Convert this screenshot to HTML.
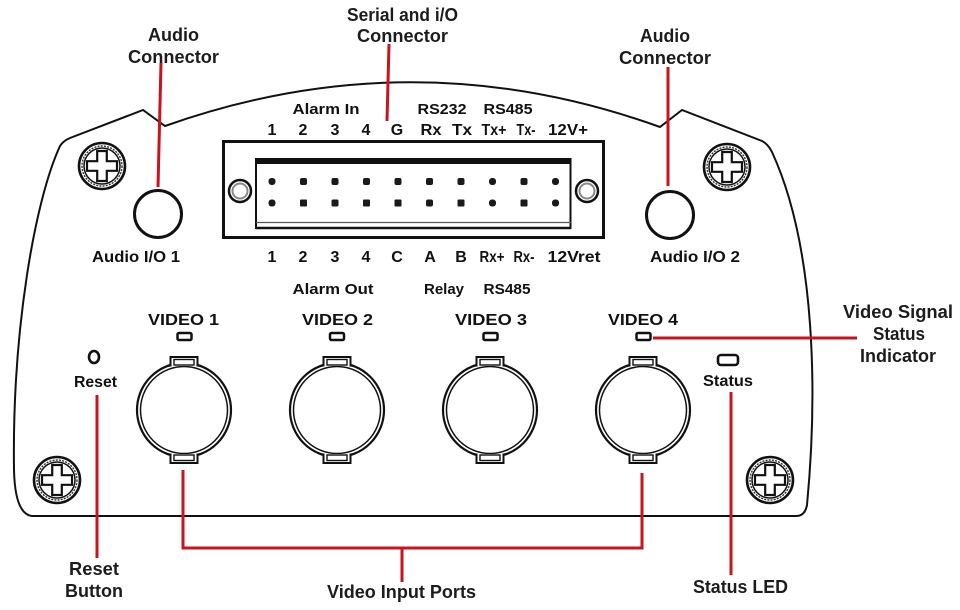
<!DOCTYPE html>
<html>
<head>
<meta charset="utf-8">
<style>
  html,body{margin:0;padding:0;background:#fff;}
  svg{display:block;}
  .lbl{font-family:"Liberation Sans",Arial,sans-serif;font-weight:bold;font-size:18px;fill:#1c1c1c;}
  .pt{font-family:"Liberation Sans",Arial,sans-serif;font-weight:bold;font-size:16px;fill:#111;}
  .ps{font-family:"Liberation Sans",Arial,sans-serif;font-weight:bold;font-size:15px;fill:#111;}
</style>
</head>
<body>
<svg width="960" height="610" viewBox="0 0 960 610" xmlns="http://www.w3.org/2000/svg">
  <defs>
    <g id="screw">
      <circle r="23" fill="#fff" stroke="#111" stroke-width="2.6"/>
      <circle r="20" fill="none" stroke="#333" stroke-width="1.4" stroke-dasharray="2 1.2"/>
      <circle r="18" fill="none" stroke="#111" stroke-width="1.5"/>
      <path d="M -4.8,-15 L 4.8,-15 L 4.8,-4.8 L 15,-4.8 L 15,4.8 L 4.8,4.8 L 4.8,15 L -4.8,15 L -4.8,4.8 L -15,4.8 L -15,-4.8 L -4.8,-4.8 Z" fill="#fff" stroke="#111" stroke-width="2.2" stroke-linejoin="miter"/>
    </g>
    <g id="bnc">
      <circle r="47" fill="#fff" stroke="#111" stroke-width="2.2"/>
      <circle r="43.5" fill="none" stroke="#111" stroke-width="1.5"/>
      <path d="M -17,-44 L -13.5,-44.5 L -13.5,-53 L 13.5,-53 L 13.5,-44.5 L 17,-44" fill="#fff" stroke="#111" stroke-width="2"/>
      <rect x="-10" y="-50.5" width="20" height="5.5" fill="none" stroke="#111" stroke-width="1.4"/>
      <path d="M -17,44 L -13.5,44.5 L -13.5,53 L 13.5,53 L 13.5,44.5 L 17,44" fill="#fff" stroke="#111" stroke-width="2"/>
      <rect x="-10" y="45" width="20" height="5.5" fill="none" stroke="#111" stroke-width="1.4"/>
    </g>
    <g id="led">
      <rect x="-7" y="-3.5" width="14" height="7" rx="1.5" fill="#fff" stroke="#111" stroke-width="2.5"/>
    </g>
  </defs>

  <!-- Panel outline -->
  <path d="M 60,146 Q 63,141 70,138 L 143,110 L 165,126 Q 413,38 660,127 L 682,110 L 762,141 Q 768,144 772,152 C 817,250 817,400 807,505 Q 805,516 796,516 L 32,516 Q 15,514 14,470 C 12,330 35,200 60,146 Z" fill="#fff" stroke="#111" stroke-width="2"/>

  <!-- Screws -->
  <use href="#screw" x="102" y="166"/>
  <use href="#screw" x="727" y="167"/>
  <use href="#screw" x="57" y="480"/>
  <use href="#screw" x="770" y="480"/>

  <!-- Audio jacks -->
  <circle cx="158" cy="214" r="23.5" fill="#fff" stroke="#111" stroke-width="3"/>
  <circle cx="670" cy="215" r="23.5" fill="#fff" stroke="#111" stroke-width="3"/>

  <!-- Serial connector block -->
  <rect x="223.5" y="141.5" width="380" height="96" fill="#fff" stroke="#111" stroke-width="3"/>
  <rect x="256" y="158" width="315" height="6" fill="#111"/>
  <line x1="256" y1="158" x2="256" y2="229" stroke="#111" stroke-width="2"/>
  <line x1="570.5" y1="158" x2="570.5" y2="229" stroke="#111" stroke-width="2"/>
  <line x1="256" y1="222.5" x2="571" y2="222.5" stroke="#555" stroke-width="1.3"/>
  <line x1="256" y1="228" x2="571" y2="228" stroke="#111" stroke-width="2.5"/>
  <!-- side holes -->
  <circle cx="240" cy="191" r="11" fill="#fff" stroke="#111" stroke-width="2.5"/>
  <circle cx="240" cy="191" r="7.5" fill="#fff" stroke="#888" stroke-width="2"/>
  <circle cx="587" cy="191" r="11" fill="#fff" stroke="#111" stroke-width="2.5"/>
  <circle cx="587" cy="191" r="7.5" fill="#fff" stroke="#888" stroke-width="2"/>
  <!-- pins -->
  <g fill="#1a1a1a">
    <rect x="268.5" y="178" width="7" height="7" rx="3"/><rect x="300" y="178" width="7" height="7" rx="2"/>
    <rect x="331.5" y="178" width="7" height="7" rx="2"/><rect x="363" y="178" width="7" height="7" rx="2"/>
    <rect x="394.5" y="178" width="7" height="7" rx="2"/><rect x="426" y="178" width="7" height="7" rx="2"/>
    <rect x="457.5" y="178" width="7" height="7" rx="2"/><rect x="489" y="178" width="7" height="7" rx="3"/>
    <rect x="520.5" y="178" width="7" height="7" rx="2"/><rect x="552" y="178" width="7" height="7" rx="3"/>

    <rect x="268.5" y="199.5" width="7" height="7" rx="3"/><rect x="300" y="199.5" width="7" height="7" rx="1"/>
    <rect x="331.5" y="199.5" width="7" height="7" rx="1.5"/><rect x="363" y="199.5" width="7" height="7" rx="1"/>
    <rect x="394.5" y="199.5" width="7" height="7" rx="1"/><rect x="426" y="199.5" width="7" height="7" rx="2"/>
    <rect x="457.5" y="199.5" width="7" height="7" rx="1"/><rect x="489" y="199.5" width="7" height="7" rx="3"/>
    <rect x="520.5" y="199.5" width="7" height="7" rx="1"/><rect x="552" y="199.5" width="7" height="7" rx="3"/>
  </g>

  <!-- Connector labels -->
  <text class="ps" x="326" y="114" text-anchor="middle" textLength="67" lengthAdjust="spacingAndGlyphs">Alarm In</text>
  <text class="ps" x="442" y="114" text-anchor="middle" textLength="49" lengthAdjust="spacingAndGlyphs">RS232</text>
  <text class="ps" x="508" y="114" text-anchor="middle" textLength="49" lengthAdjust="spacingAndGlyphs">RS485</text>

  <g class="pt" text-anchor="middle">
    <text x="272" y="135">1</text>
    <text x="303" y="135">2</text>
    <text x="335" y="135">3</text>
    <text x="366" y="135">4</text>
    <text x="397" y="135">G</text>
    <text x="431" y="135" textLength="21" lengthAdjust="spacingAndGlyphs">Rx</text>
    <text x="462" y="135" textLength="20" lengthAdjust="spacingAndGlyphs">Tx</text>
    <text x="494" y="135" textLength="25" lengthAdjust="spacingAndGlyphs">Tx+</text>
    <text x="526" y="135" textLength="19" lengthAdjust="spacingAndGlyphs">Tx-</text>
    <text x="568" y="135" textLength="40" lengthAdjust="spacingAndGlyphs">12V+</text>

    <text x="272" y="262">1</text>
    <text x="303" y="262">2</text>
    <text x="335" y="262">3</text>
    <text x="366" y="262">4</text>
    <text x="397" y="262">C</text>
    <text x="430" y="262">A</text>
    <text x="461" y="262">B</text>
    <text x="492" y="262" textLength="25" lengthAdjust="spacingAndGlyphs">Rx+</text>
    <text x="524" y="262" textLength="21" lengthAdjust="spacingAndGlyphs">Rx-</text>
    <text x="574" y="262" textLength="53" lengthAdjust="spacingAndGlyphs">12Vret</text>
  </g>

  <text class="ps" x="333" y="294" text-anchor="middle" textLength="81" lengthAdjust="spacingAndGlyphs">Alarm Out</text>
  <text class="ps" x="444" y="294" text-anchor="middle" textLength="40" lengthAdjust="spacingAndGlyphs">Relay</text>
  <text class="ps" x="507" y="294" text-anchor="middle" textLength="47" lengthAdjust="spacingAndGlyphs">RS485</text>

  <text class="pt" x="136" y="262" text-anchor="middle" textLength="88" lengthAdjust="spacingAndGlyphs">Audio I/O 1</text>
  <text class="pt" x="695" y="262" text-anchor="middle" textLength="90" lengthAdjust="spacingAndGlyphs">Audio I/O 2</text>

  <!-- Video section -->
  <text class="pt" x="183.5" y="325" text-anchor="middle" textLength="71" lengthAdjust="spacingAndGlyphs">VIDEO 1</text>
  <text class="pt" x="337.5" y="325" text-anchor="middle" textLength="71" lengthAdjust="spacingAndGlyphs">VIDEO 2</text>
  <text class="pt" x="491" y="325" text-anchor="middle" textLength="72" lengthAdjust="spacingAndGlyphs">VIDEO 3</text>
  <text class="pt" x="643" y="325" text-anchor="middle" textLength="70" lengthAdjust="spacingAndGlyphs">VIDEO 4</text>

  <use href="#led" x="184.5" y="336.5"/>
  <use href="#led" x="337" y="336.5"/>
  <use href="#led" x="490.5" y="336.5"/>
  <use href="#led" x="643.5" y="336.5"/>

  <use href="#bnc" x="184" y="410"/>
  <use href="#bnc" x="337" y="410"/>
  <use href="#bnc" x="490" y="410"/>
  <use href="#bnc" x="643" y="410"/>

  <!-- Reset -->
  <ellipse cx="94" cy="357" rx="5" ry="6" fill="#fff" stroke="#111" stroke-width="2.6"/>
  <text class="pt" x="95.5" y="387" text-anchor="middle" textLength="43" lengthAdjust="spacingAndGlyphs">Reset</text>

  <!-- Status -->
  <rect x="718" y="355" width="20" height="10" rx="3" fill="#fff" stroke="#111" stroke-width="2.6"/>
  <text class="pt" x="728" y="386" text-anchor="middle" textLength="50" lengthAdjust="spacingAndGlyphs">Status</text>

  <!-- Red leader lines -->
  <g stroke="#c8141e" stroke-width="3" fill="none">
    <line x1="161" y1="63" x2="158" y2="187"/>
    <line x1="389" y1="44" x2="387" y2="121"/>
    <line x1="668" y1="67" x2="668" y2="186"/>
    <line x1="97" y1="395" x2="97" y2="558"/>
    <path d="M 183,470 V 548 H 642 V 473"/>
    <line x1="402" y1="548" x2="402" y2="582"/>
    <line x1="731" y1="392" x2="731" y2="575"/>
    <line x1="653" y1="338" x2="857" y2="338"/>
  </g>

  <!-- Callout labels -->
  <text class="lbl" x="173.5" y="41" text-anchor="middle" textLength="51" lengthAdjust="spacingAndGlyphs">Audio</text>
  <text class="lbl" x="173.5" y="63" text-anchor="middle" textLength="91" lengthAdjust="spacingAndGlyphs">Connector</text>

  <text class="lbl" x="402.5" y="21" text-anchor="middle" textLength="111" lengthAdjust="spacingAndGlyphs">Serial and i/O</text>
  <text class="lbl" x="402.5" y="42" text-anchor="middle" textLength="91" lengthAdjust="spacingAndGlyphs">Connector</text>

  <text class="lbl" x="665" y="42" text-anchor="middle" textLength="50" lengthAdjust="spacingAndGlyphs">Audio</text>
  <text class="lbl" x="665" y="64" text-anchor="middle" textLength="92" lengthAdjust="spacingAndGlyphs">Connector</text>

  <text class="lbl" x="898" y="318" text-anchor="middle" textLength="110" lengthAdjust="spacingAndGlyphs">Video Signal</text>
  <text class="lbl" x="899" y="340" text-anchor="middle" textLength="52" lengthAdjust="spacingAndGlyphs">Status</text>
  <text class="lbl" x="898" y="362" text-anchor="middle" textLength="76" lengthAdjust="spacingAndGlyphs">Indicator</text>

  <text class="lbl" x="94" y="575" text-anchor="middle" textLength="50" lengthAdjust="spacingAndGlyphs">Reset</text>
  <text class="lbl" x="94" y="597" text-anchor="middle" textLength="58" lengthAdjust="spacingAndGlyphs">Button</text>

  <text class="lbl" x="401.5" y="598" text-anchor="middle" textLength="149" lengthAdjust="spacingAndGlyphs">Video Input Ports</text>

  <text class="lbl" x="740.5" y="593" text-anchor="middle" textLength="95" lengthAdjust="spacingAndGlyphs">Status LED</text>
</svg>
</body>
</html>
